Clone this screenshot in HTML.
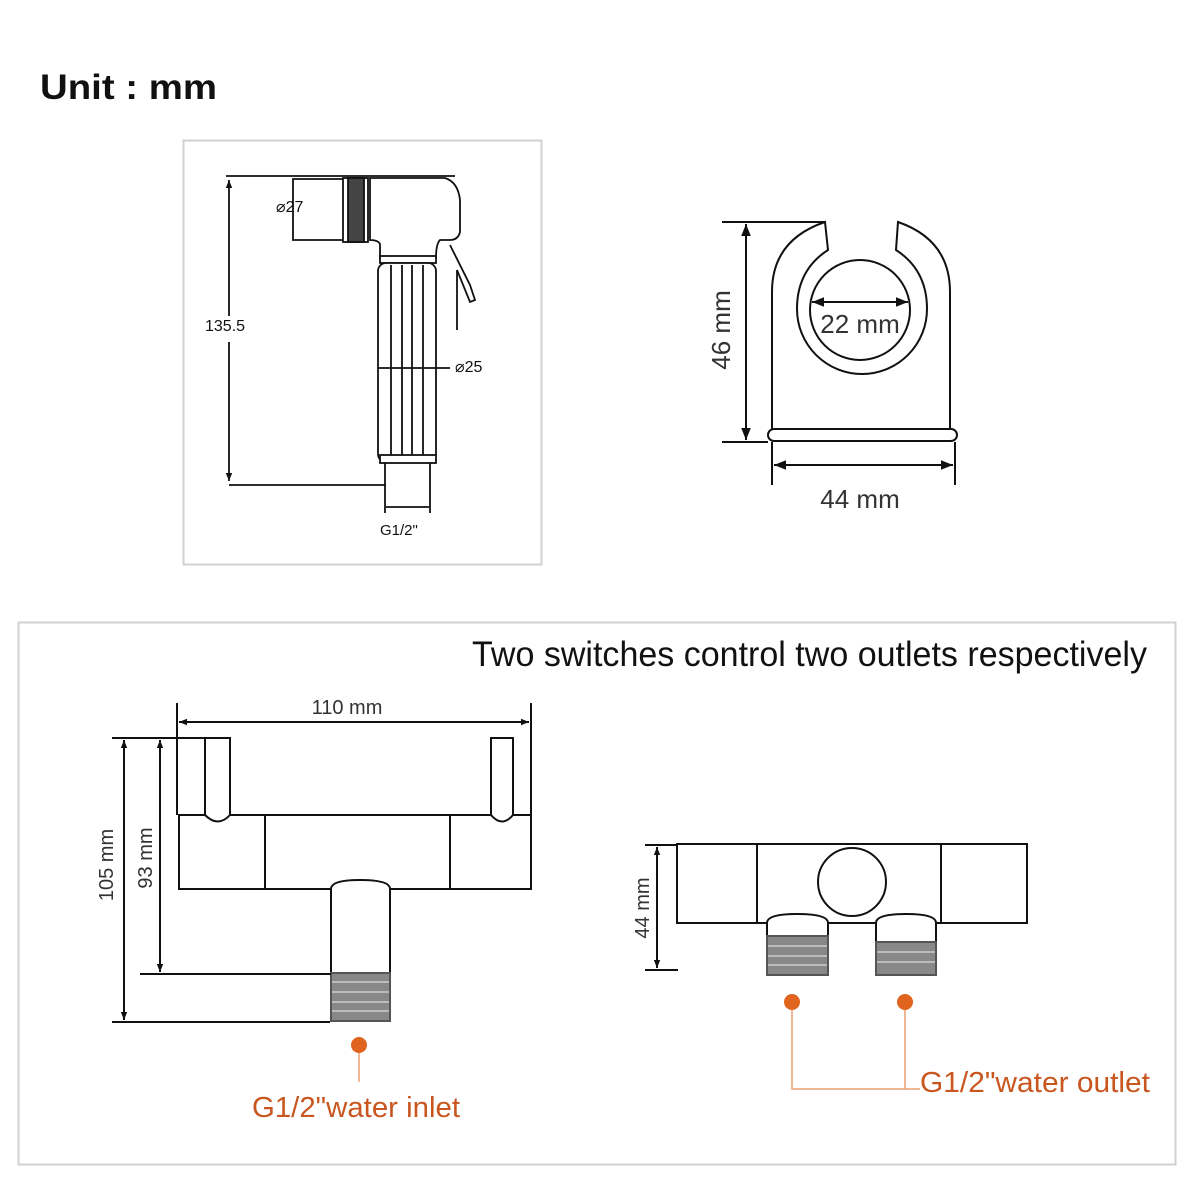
<!DOCTYPE html>
<html><head><meta charset="utf-8"><style>
html,body{margin:0;padding:0;background:#fff;}
svg{display:block;}
text{font-family:"Liberation Sans",sans-serif;}
</style></head><body>
<svg width="1200" height="1200" viewBox="0 0 1200 1200" xmlns="http://www.w3.org/2000/svg">
<defs>
<marker id="a" viewBox="0 0 10 10" refX="10" refY="5" markerWidth="8" markerHeight="8" orient="auto-start-reverse" markerUnits="userSpaceOnUse"><path d="M0,1 L10,5 L0,9 z" fill="#111"/></marker>
<marker id="b" viewBox="0 0 10 10" refX="10" refY="5" markerWidth="14" markerHeight="12" orient="auto-start-reverse" markerUnits="userSpaceOnUse"><path d="M0,1 L10,5 L0,9 z" fill="#111"/></marker>
</defs>
<rect width="1200" height="1200" fill="#fff"/>
<text x="40" y="99" font-size="35" font-weight="bold" fill="#111" textLength="177" lengthAdjust="spacingAndGlyphs">Unit : mm</text>

<!-- box 1 -->
<rect x="183.5" y="140.5" width="358" height="424" fill="none" stroke="#d0d0d0" stroke-width="2"/>
<g stroke="#111" stroke-width="1.8" fill="none">
<line x1="226" y1="176" x2="455" y2="176"/>
<line x1="229" y1="180" x2="229" y2="316" marker-start="url(#a)"/>
<line x1="229" y1="342" x2="229" y2="481" marker-end="url(#a)"/>
<line x1="229" y1="485" x2="386" y2="485"/>
<polyline points="345,179 293,179 293,240 345,240"/>
<rect x="343" y="178" width="25" height="64" fill="#fff"/>
<rect x="348" y="178" width="16" height="64" fill="#444"/>
<path d="M370,178 L445,178 Q458,182 460,200 L460,232 Q458,240 450,240 L440,240 Q436,244 436,258 L380,258 L380,244 Q378,240 370,240 Z" fill="#fff"/>
<rect x="380" y="256" width="56" height="7" fill="#fff"/>
<rect x="378" y="263" width="58" height="199" rx="8" fill="#fff"/>
<line x1="391" y1="265" x2="391" y2="460"/>
<line x1="402" y1="265" x2="402" y2="460"/>
<line x1="412" y1="265" x2="412" y2="460"/>
<line x1="423" y1="265" x2="423" y2="460"/>
<rect x="380" y="455" width="56" height="8" fill="#fff"/>
<line x1="385" y1="463" x2="385" y2="513"/>
<line x1="430" y1="463" x2="430" y2="513"/>
<line x1="386" y1="507" x2="429" y2="507"/>
<line x1="378" y1="368" x2="450" y2="368"/>
<path d="M450,245 L470,285 L475,300 L470,302 L457,270"/>
<line x1="457" y1="270" x2="457" y2="330"/>
</g>
<text x="205" y="331" font-size="16" fill="#111">135.5</text>
<text x="276" y="212" font-size="16" fill="#111">⌀27</text>
<text x="455" y="372" font-size="16" fill="#111">⌀25</text>
<text x="380" y="535" font-size="15" fill="#111">G1/2"</text>

<!-- holder -->
<g stroke="#111" stroke-width="2" fill="none">
<path d="M772,429 L772,292 Q772,240 825,222 L828,250 Q797,270 797,309 A65,65 0 0 0 927,309 Q927,270 896,250 L898,222 Q950,240 950,292 L950,429"/>
<circle cx="860" cy="310" r="50"/>
<rect x="768" y="429" width="189" height="12" rx="6" fill="#fff"/>
<line x1="722" y1="222" x2="825" y2="222"/>
<line x1="722" y1="442" x2="768" y2="442"/>
<line x1="746" y1="224" x2="746" y2="440" marker-start="url(#b)" marker-end="url(#b)"/>
<line x1="772" y1="442" x2="772" y2="485"/>
<line x1="955" y1="442" x2="955" y2="485"/>
<line x1="774" y1="465" x2="953" y2="465" marker-start="url(#b)" marker-end="url(#b)"/>
<line x1="812" y1="302" x2="908" y2="302" marker-start="url(#b)" marker-end="url(#b)"/>
</g>
<text x="860" y="333" font-size="26" fill="#333" text-anchor="middle">22 mm</text>
<text x="860" y="508" font-size="26" fill="#333" text-anchor="middle">44 mm</text>
<text transform="translate(730,330) rotate(-90)" font-size="26" fill="#333" text-anchor="middle">46 mm</text>

<!-- box 2 -->
<rect x="18.5" y="622.5" width="1157" height="542" fill="none" stroke="#d0d0d0" stroke-width="2"/>
<text x="472" y="666" font-size="35" fill="#111" textLength="675" lengthAdjust="spacingAndGlyphs" style="font-family:'Liberation Sans Narrow','Liberation Sans',sans-serif">Two switches control two outlets respectively</text>

<!-- left valve -->
<g stroke="#111" stroke-width="2" fill="none">
<line x1="177" y1="703" x2="177" y2="815"/>
<line x1="531" y1="703" x2="531" y2="815"/>
<line x1="179" y1="722" x2="529" y2="722" marker-start="url(#a)" marker-end="url(#a)"/>
<rect x="179" y="815" width="352" height="74"/>
<line x1="265" y1="815" x2="265" y2="889"/>
<line x1="450" y1="815" x2="450" y2="889"/>
<path d="M205,815 L205,738 L230,738 L230,815 Q218,828 205,815 Z" fill="#fff"/>
<path d="M491,815 L491,738 L513,738 L513,815 Q502,828 491,815 Z" fill="#fff"/>
<path d="M331,1020 L331,889 Q331,880 360,880 Q390,880 390,889 L390,1020" fill="#fff"/>
<rect x="331" y="973" width="59" height="48" fill="#888" stroke="#555"/>
<line x1="112" y1="738" x2="230" y2="738"/>
<line x1="112" y1="1022" x2="330" y2="1022"/>
<line x1="140" y1="974" x2="331" y2="974"/>
<line x1="124" y1="740" x2="124" y2="1020" marker-start="url(#a)" marker-end="url(#a)"/>
<line x1="160" y1="740" x2="160" y2="972" marker-start="url(#a)" marker-end="url(#a)"/>
</g>
<g stroke="#ccc" stroke-width="1.5"><line x1="332" y1="982" x2="389" y2="982"/><line x1="332" y1="992" x2="389" y2="992"/><line x1="332" y1="1002" x2="389" y2="1002"/><line x1="332" y1="1011" x2="389" y2="1011"/></g>
<text x="347" y="714" font-size="20" fill="#333" text-anchor="middle">110 mm</text>
<text transform="translate(113,865) rotate(-90)" font-size="20" fill="#333" text-anchor="middle">105 mm</text>
<text transform="translate(152,858) rotate(-90)" font-size="20" fill="#333" text-anchor="middle">93 mm</text>
<line x1="359" y1="1045" x2="359" y2="1082" stroke="#e8a070" stroke-width="1.5"/>
<circle cx="359" cy="1045" r="8" fill="#e0641e"/>
<text x="252" y="1117" font-size="29" fill="#c8561e" textLength="208" lengthAdjust="spacingAndGlyphs">G1/2"water inlet</text>

<!-- right valve -->
<g stroke="#111" stroke-width="2" fill="none">
<rect x="677" y="844" width="350" height="79"/>
<line x1="757" y1="844" x2="757" y2="923"/>
<line x1="941" y1="844" x2="941" y2="923"/>
<circle cx="852" cy="882" r="34"/>
<path d="M767,975 L767,923 Q767,914 797,914 Q828,914 828,923 L828,975" fill="#fff"/>
<path d="M876,975 L876,923 Q876,914 906,914 Q936,914 936,923 L936,975" fill="#fff"/>
<rect x="767" y="936" width="61" height="39" fill="#888" stroke="#555"/>
<rect x="876" y="942" width="60" height="33" fill="#888" stroke="#555"/>
<line x1="645" y1="845" x2="677" y2="845"/>
<line x1="645" y1="970" x2="678" y2="970"/>
<line x1="657" y1="847" x2="657" y2="968" marker-start="url(#a)" marker-end="url(#a)"/>
</g>
<g stroke="#ccc" stroke-width="1.5"><line x1="768" y1="946" x2="827" y2="946"/><line x1="768" y1="956" x2="827" y2="956"/><line x1="768" y1="965" x2="827" y2="965"/><line x1="877" y1="952" x2="935" y2="952"/><line x1="877" y1="962" x2="935" y2="962"/></g>
<text transform="translate(649,908) rotate(-90)" font-size="20" fill="#333" text-anchor="middle">44 mm</text>
<g stroke="#e8a070" stroke-width="1.5" fill="none">
<polyline points="792,1002 792,1089 920,1089"/>
<line x1="905" y1="1002" x2="905" y2="1089"/>
</g>
<circle cx="792" cy="1002" r="8" fill="#e0641e"/>
<circle cx="905" cy="1002" r="8" fill="#e0641e"/>
<text x="920" y="1092" font-size="29" fill="#c8561e" textLength="230" lengthAdjust="spacingAndGlyphs">G1/2"water outlet</text>
</svg>
</body></html>
